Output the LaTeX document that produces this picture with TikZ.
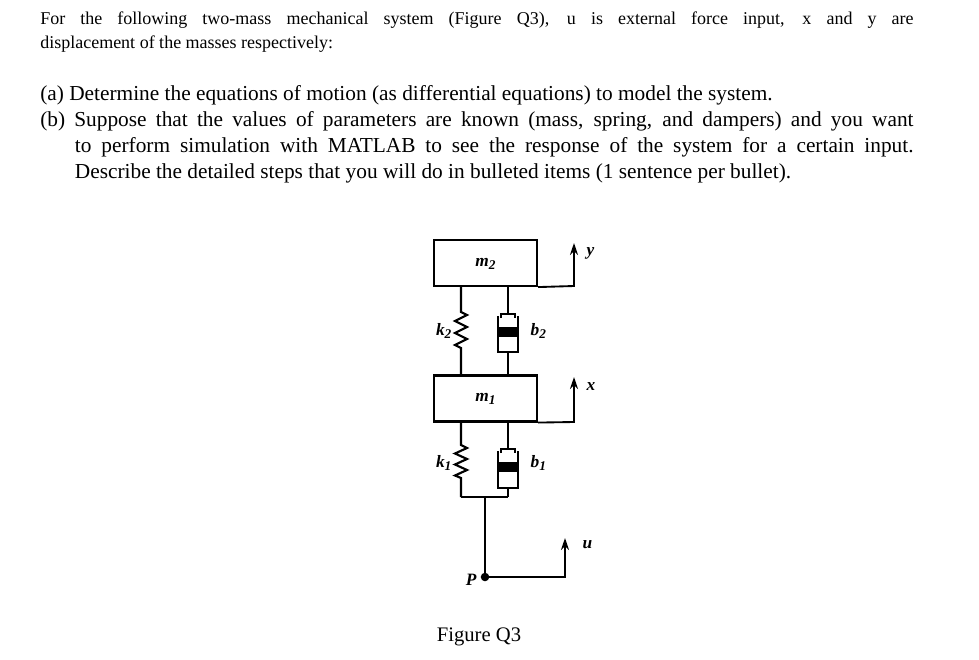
\documentclass[tikz,border=0pt]{standalone}
\usepackage{fontspec}
\setmainfont{Liberation Serif}
\usetikzlibrary{arrows.meta}
\newcommand{\sbx}[2]{#1\raisebox{-0.3ex}{\fontsize{10}{10}\selectfont #2}}
\begin{document}
\begin{tikzpicture}[x=0.75pt,y=-0.75pt,
  wire/.style={line width=1.6pt},
  mass/.style={draw,line width=1.6pt,minimum width=77.25pt,minimum height=34.5pt,inner sep=0pt},
  lbl/.style={font=\fontsize{13}{13}\selectfont\itshape\bfseries,inner sep=1pt},
  arr/.style={line width=1.4pt,-{Stealth[length=9pt,width=6pt]}}]
\useasboundingbox (0,0) rectangle (979,660);
\node[anchor=north west,inner sep=0pt,text width=655pt,align=justify,font=\fontsize{13.5}{18}\selectfont] (t1) at (40,12)
 {For the following two-mass mechanical system (Figure Q3), u is external force input, x and y are\linebreak displacement of the masses respectively:};
\node[anchor=north west,inner sep=0pt,text width=655pt,align=justify,font=\fontsize{16}{19.5}\selectfont] (t2) at (40,85)
 {\parindent=0pt\hangindent=26pt\hangafter=1 (a) Determine\ the equations of motion (as differential equations) to model the system.\par
 \hangindent=26pt\hangafter=1 (b) Suppose that the values of parameters are known (mass, spring, and dampers) and you want\linebreak to perform simulation with MATLAB to see the response of the system for a certain input.\linebreak Describe the detailed steps that you will do in bulleted items (1 sentence per bullet).\par};
% masses
\node[mass] (m2) at (485.5,263) {};
\node[lbl] (m2l) at (485.5,264) {\sbx{m}{2}};
\node[mass] (m1) at (485.5,398.5) {};
\node[lbl] (m1l) at (485.5,399) {\sbx{m}{1}};
% springs
\draw[wire] (461,286) -- (461,312) -- (467,315) -- (455,321) -- (467,327) -- (455,333) -- (467,339) -- (455,345) -- (461,348) -- (461,375);
\draw[wire] (461,422) -- (461,445) -- (467,448) -- (455,453.5) -- (467,459) -- (455,464.5) -- (467,470) -- (455,475.5) -- (461,478) -- (461,497);
\node[lbl,anchor=east] (k2) at (453,331) {\sbx{k}{2}};
\node[lbl,anchor=east] (k1) at (453,463) {\sbx{k}{1}};
% dampers
\draw[wire] (508,286) -- (508,314) (501,318) -- (501,314) -- (515,314) -- (515,318);
\draw[wire] (498,316) -- (498,352) -- (518,352) -- (518,316);
\fill (499,327) rectangle (517,337);
\draw[wire] (508,352) -- (508,375);
\draw[wire] (508,422) -- (508,449) (501,453) -- (501,449) -- (515,449) -- (515,453);
\draw[wire] (498,451) -- (498,488) -- (518,488) -- (518,451);
\fill (499,462) rectangle (517,472);
\draw[wire] (508,488) -- (508,497);
\node[lbl,anchor=west] (b2) at (529,331) {\sbx{b}{2}};
\node[lbl,anchor=west] (b1) at (529,463) {\sbx{b}{1}};
% bottom link
\draw[wire] (461,497) -- (508,497);
\coordinate (P) at (485,577);
\draw[wire] (485,497) -- (P);
\fill (P) circle (3.2pt);
\node[lbl,anchor=east] (Pl) at (478,580) {P};
% arrows
\draw[arr] (m2.south east) -- (574,286) -- (574,243);
\node[lbl,anchor=west] (yl) at (585,253) {y};
\draw[arr] (m1.south east) -- (574,422) -- (574,377);
\node[lbl,anchor=west] (xl) at (585,387) {x};
\draw[arr] (P) -- (565,577) -- (565,538);
\node[lbl,anchor=west] (ul) at (581,545) {u};
\node[font=\fontsize{15.5}{15.5}\selectfont] (cap) at (479,637) {Figure Q3};
\end{tikzpicture}
\end{document}
